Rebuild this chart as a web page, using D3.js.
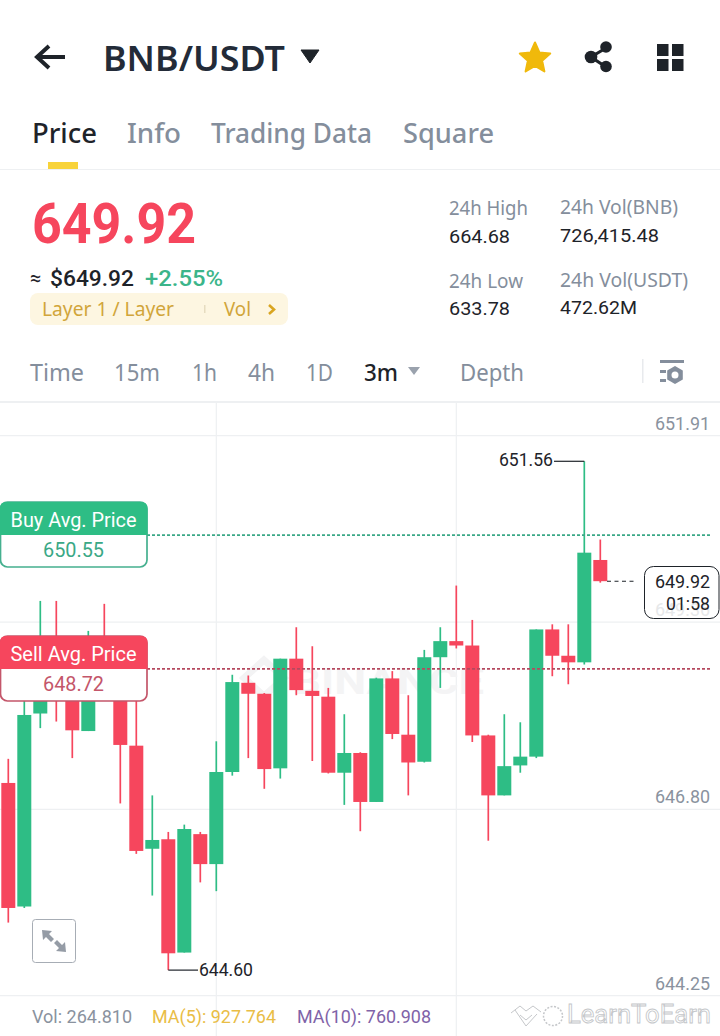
<!DOCTYPE html>
<html><head><meta charset="utf-8">
<script src="https://cdn.jsdelivr.net/npm/d3@7"></script>
<style>html,body{margin:0;padding:0;background:#fff}svg{display:block}text{font-family:Roboto,sans-serif}</style>
</head><body><div id="c"></div>
<script>
// Candle values
const opens  =[647.16,645.47,648.11,648.91,648.70,647.87,648.98,648.57,647.67,646.26,646.39,644.84,646.46,646.05,647.31,648.53,648.38,647.36,648.86,648.42,648.34,647.30,647.57,646.90,648.59,647.82,647.45,648.88,649.10,649.04,647.81,646.99,647.40,647.52,649.26,648.90,648.81,650.21];
const closes =[645.45,648.09,648.32,648.50,647.88,648.43,648.57,647.68,646.23,646.38,644.83,646.53,646.05,647.31,648.54,648.38,647.35,648.86,648.43,648.35,647.30,647.57,646.90,648.59,647.83,647.44,648.88,649.10,649.04,647.81,646.99,647.39,647.52,649.26,648.90,648.81,650.31,649.92];
const highs  =[647.49,648.57,649.65,649.65,649.05,649.24,649.61,648.84,648.43,646.99,646.49,646.59,646.49,647.73,648.64,648.63,648.39,648.86,649.29,649.03,648.46,648.10,647.58,648.60,648.69,648.36,648.98,649.29,649.86,649.39,647.82,648.10,647.99,649.26,649.33,649.33,651.56,650.49];
const lows   =[645.25,645.45,647.91,648.00,647.50,647.87,648.36,646.88,646.19,645.62,644.60,644.84,645.80,645.68,647.26,647.50,647.08,647.22,648.36,647.46,647.29,646.86,646.50,646.90,647.76,646.99,647.44,648.46,649.00,647.72,646.37,646.99,647.30,647.50,648.62,648.51,648.78,649.90];
const priceTicks=[651.91,649.36,646.80,644.25];
const timeTickIndex=[13,28];
const buyAvg=650.55, sellAvg=648.72, lastPrice=649.92, chartHigh=651.56, chartLow=644.60;
const tabs=["Price","Info","Trading Data","Square"];
const intervals=["Time","15m","1h","4h","1D","3m","Depth"];
const stats=[["24h High","664.68"],["24h Vol(BNB)","726,415.48"],["24h Low","633.78"],["24h Vol(USDT)","472.62M"]];
const footer=["Vol: 264.810","MA(5): 927.764","MA(10): 760.908"];

const W=720,H=1036,GREEN="#2ebd85",RED="#f6465d",INK="#1e2329",GREY="#848e9c",GRID="#eef0f2";
const svg=d3.select("#c").append("svg").attr("width",W).attr("height",H).attr("viewBox",[0,0,W,H]);
const y=d3.scaleLinear().domain([651.91,644.25]).range([435.7,995.7]);
const x=d3.scaleLinear().domain([0,37]).range([8.3,600.3]);
function T(t,px,py,size,fill,o={}){
  const s=svg.append("text").text(t).attr("x",px).attr("y",py).attr("font-size",size).attr("fill",fill)
   .attr("font-weight",o.w||400).attr("text-anchor",o.a||"start").attr("letter-spacing",o.ls||0)
   .style("font-family",o.f||"Roboto,sans-serif");
  if(o.len) s.attr("textLength",o.len).attr("lengthAdjust","spacingAndGlyphs");
  return s;
}
const NOTO="'Noto Sans',sans-serif";
// header
svg.append("path").attr("d","M65 57H38M49 46L37 57L49 68").attr("fill","none").attr("stroke",INK).attr("stroke-width",4);
T("BNB/USDT",103,71,34,"#232b38",{w:600,f:NOTO,len:182});
svg.append("path").attr("d","M301 50H319L310 63Z").attr("fill",INK).attr("stroke",INK).attr("stroke-width",1).attr("stroke-linejoin","round");
const star=d3.range(10).map(i=>{const r=i%2?7.5:16,a=-Math.PI/2+i*Math.PI/5;return [535+r*Math.cos(a),58.5+r*Math.sin(a)];});
svg.append("path").attr("d",d3.line()(star)+"Z").attr("fill","#f0b90b").attr("stroke","#f0b90b").attr("stroke-width",2).attr("stroke-linejoin","round");
svg.append("path").attr("d","M606 48L591 57L606 67").attr("fill","none").attr("stroke",INK).attr("stroke-width",3.2);
[[606,47,5.8],[591,57,6.3],[606,66.5,5.8]].forEach(c=>svg.append("circle").attr("cx",c[0]).attr("cy",c[1]).attr("r",c[2]).attr("fill",INK));
[[657,44],[672,44],[657,59],[672,59]].forEach(c=>svg.append("rect").attr("x",c[0]).attr("y",c[1]).attr("width",11.5).attr("height",12).attr("fill",INK));
// tabs
const tabX=[32,127,211,403];
tabs.forEach((t,i)=>T(t,tabX[i],143,27,i?GREY:INK,{w:500,f:NOTO,len:[65,54,161,91][i]}));
svg.append("rect").attr("x",48).attr("y",162).attr("width",30).attr("height",7).attr("fill","#f8d33a");
svg.append("line").attr("x1",0).attr("x2",W).attr("y1",169.5).attr("y2",169.5).attr("stroke",GRID).attr("stroke-width",1);
// price block
T("649.92",32,243,55,RED,{w:700,len:164});
T("≈",30,285,20,INK);
T("$649.92",50,286,22,INK,{w:500,len:84});
T("+2.55%",145,286,22,"#3bb58a",{w:500,len:78});
svg.append("rect").attr("x",30).attr("y",293).attr("width",258).attr("height",32).attr("rx",8).attr("fill","#fdf6e1");
T("Layer 1 / Layer",42,316,19.5,"#d1a53a",{f:NOTO,len:132});
svg.append("rect").attr("x",204).attr("y",305).attr("width",1.5).attr("height",8).attr("fill","#e6dcc0");
T("Vol",224,316,19.5,"#d1a53a",{f:NOTO,len:27});
svg.append("path").attr("d","M269 305L274 309.5L269 314").attr("fill","none").attr("stroke","#d9a520").attr("stroke-width",2.6);
// stats
const sx=[449,560,449,560],lab=[215,214,288,287],val=[243,242,315,314];
stats.forEach((s,i)=>{T(s[0],sx[i],lab[i],19.5,GREY,{f:NOTO,len:[79,118,74,128][i]});
  T(s[1],sx[i],val[i],18.5,INK,{len:[61,99,61,77][i]});});
// intervals
const ix=[30,114,192,248,306,364,460];
intervals.forEach((t,i)=>T(t,ix[i],381,24,i==5?INK:GREY,{w:i==5?500:400,f:NOTO,len:[54,46,25,27,27,34,64][i]}));
svg.append("path").attr("d","M408 367H420L414 375Z").attr("fill","#9aa2ad");
svg.append("rect").attr("x",642).attr("y",359).attr("width",1.5).attr("height",24).attr("fill","#e8eaed");
svg.append("rect").attr("x",660).attr("y",360).attr("width",24).attr("height",3).attr("fill","#848e9c");
svg.append("rect").attr("x",660).attr("y",370).attr("width",6).attr("height",3).attr("fill","#848e9c");
svg.append("rect").attr("x",660).attr("y",379).attr("width",6).attr("height",3).attr("fill","#848e9c");
svg.append("path").attr("d",d3.line()(d3.range(6).map(i=>[675+9*Math.sin(i*Math.PI/3),375-9*Math.cos(i*Math.PI/3)]))+"Z").attr("fill","#848e9c");
svg.append("circle").attr("cx",675).attr("cy",375).attr("r",3.5).attr("fill","#fff");
// chart frame and grid
svg.append("line").attr("x1",0).attr("x2",W).attr("y1",402).attr("y2",402).attr("stroke",GRID).attr("stroke-width",2);
svg.append("g").selectAll("line").data(priceTicks).join("line")
  .attr("x1",0).attr("x2",W).attr("y1",d=>y(d)).attr("y2",d=>y(d)).attr("stroke",GRID).attr("stroke-width",1.2);
svg.append("g").selectAll("line").data(timeTickIndex).join("line")
  .attr("x1",d=>x(d)).attr("x2",d=>x(d)).attr("y1",403).attr("y2",H).attr("stroke",GRID).attr("stroke-width",1.2);
svg.append("g").selectAll("text").data(priceTicks).join("text").text(d=>d.toFixed(2))
  .attr("x",710).attr("y",d=>y(d)-6).attr("text-anchor","end").attr("font-size",18)
  .attr("textLength",55).attr("lengthAdjust","spacingAndGlyphs")
  .attr("fill",(d,i)=>i==1?"#e6e8ea":"#8a929e");
// watermark
svg.append("path").attr("d","M264 660L284 678L264 696L244 678Z").attr("fill","none").attr("stroke","#f3f3f4").attr("stroke-width",7);
T("BINANCE",292,694,36,"#f4f4f5",{w:700,len:192});
// candles
const color=i=>closes[i]>=opens[i]?GREEN:RED;
const idx=d3.range(opens.length);
svg.append("g").selectAll("line").data(idx).join("line")
  .attr("x1",i=>x(i)).attr("x2",i=>x(i)).attr("y1",i=>y(highs[i])).attr("y2",i=>y(lows[i]))
  .attr("stroke",color).attr("stroke-width",1.7);
svg.append("g").selectAll("rect").data(idx).join("rect")
  .attr("x",i=>x(i)-7).attr("width",14)
  .attr("y",i=>y(Math.max(opens[i],closes[i]))).attr("height",i=>Math.max(1.5,Math.abs(y(opens[i])-y(closes[i]))))
  .attr("fill",color);
// avg price lines
[[buyAvg,"#3aa886"],[sellAvg,"#b5495f"]].forEach(d=>svg.append("line").attr("x1",147).attr("x2",710)
  .attr("y1",y(d[0])).attr("y2",y(d[0])).attr("stroke",d[1]).attr("stroke-width",1.7).attr("stroke-dasharray","3 2"));
function badge(top,title,val,fillC,lineC,textC){
  svg.append("rect").attr("x",0.5).attr("y",top).attr("width",146.5).attr("height",65).attr("rx",7).attr("fill","#fff").attr("stroke",lineC).attr("stroke-width",1.7);
  svg.append("path").attr("d",`M0 ${top+33}V${top+6}Q0 ${top} 6 ${top}H141Q147.5 ${top} 147.5 ${top+6}V${top+33}Z`).attr("fill",fillC);
  T(title,73.5,top+25,19.5,"#fff",{a:"middle",len:126});
  T(val,73.5,top+55,19.5,textC,{a:"middle",len:61});
}
badge(502,"Buy Avg. Price",buyAvg.toFixed(2),GREEN,"#45b08f","#3aa886");
badge(636,"Sell Avg. Price",sellAvg.toFixed(2),RED,"#c4566a","#c4566a");
// high/low labels
svg.append("line").attr("x1",554).attr("x2",x(36)).attr("y1",y(chartHigh)).attr("y2",y(chartHigh)).attr("stroke",INK).attr("stroke-width",1.2);
T(chartHigh.toFixed(2),553,y(chartHigh)+5,17.5,INK,{a:"end",len:54});
svg.append("line").attr("x1",x(10)).attr("x2",198).attr("y1",y(chartLow)).attr("y2",y(chartLow)).attr("stroke",INK).attr("stroke-width",1.2);
T(chartLow.toFixed(2),199,y(chartLow)+5.5,17.5,INK,{len:54});
// last price
svg.append("line").attr("x1",607).attr("x2",636).attr("y1",y(lastPrice)).attr("y2",y(lastPrice)).attr("stroke",INK).attr("stroke-width",1.1).attr("stroke-dasharray","4 3.5");
svg.append("rect").attr("x",644.5).attr("y",566.5).attr("width",74.5).attr("height",52).attr("rx",9).attr("fill","none").attr("stroke",INK).attr("stroke-width",1);
T(lastPrice.toFixed(2),710,588,18,INK,{a:"end",len:55});
T("01:58",710,610,18,INK,{a:"end",len:44});
// expand button
svg.append("rect").attr("x",32.5).attr("y",919.5).attr("width",43).attr("height",43).attr("rx",3).attr("fill","#fff").attr("stroke","#a7adb5").attr("stroke-width",1);
svg.append("path").attr("d","M42 930L52 931L49 934L54 939L51 942L46 937L43 940Z M66 952L56 951L59 948L54 943L57 940L62 945L65 942Z").attr("fill","#959ca6");
// footer
const fx=[32,152,297],fc=["#8a929e","#e9bd45","#7f63a8"],fl=[100,124,134];
footer.forEach((t,i)=>T(t,fx[i],1023,18,fc[i],{len:fl[i]}));
// corner watermark
svg.append("path").attr("d","M511 1013L520 1006L526 1011L533 1006L541 1012 M515 1010L526 1026L537 1014 M520 1015L526 1020L532 1015").attr("fill","none").attr("stroke","#c5c7ca").attr("stroke-width",1);
T("LearnToEarn",567,1023,26,"#fff",{len:144}).attr("stroke","#c5c7ca").attr("stroke-width",0.9);
svg.append("circle").attr("cx",553).attr("cy",1016).attr("r",9.5).attr("fill","none").attr("stroke","#c5c7ca").attr("stroke-dasharray","2 1.5").attr("stroke-width",1.5);
</script></body></html>
